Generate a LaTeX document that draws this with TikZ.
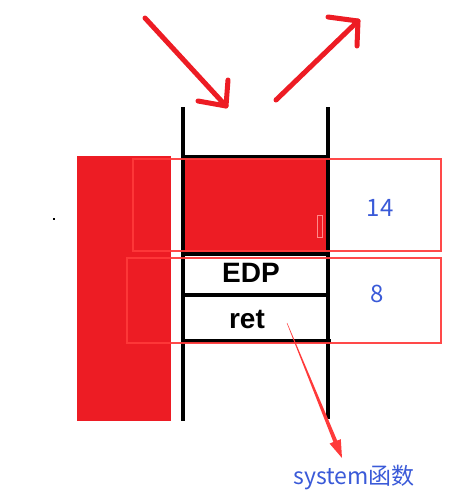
\documentclass[tikz,border=0pt]{standalone}
\usepackage{fontspec}
\setmainfont{Liberation Sans}
\newfontfamily\cjk{Noto Sans CJK SC}
\definecolor{pred}{RGB}{237,28,36}
\definecolor{ored}{RGB}{255,58,58}
\definecolor{tblue}{RGB}{58,90,216}
\tikzset{
  stackline/.style={line width=4pt, black},
  outlinebox/.style={draw=ored, line width=2.5pt, draw opacity=0.92},
  penarrow/.style={draw=pred, line width=5pt, line cap=round, line join=round},
  numlabel/.style={text=tblue, font=\cjk\fontsize{24}{28}\selectfont, inner sep=0pt},
  celllabel/.style={text=black, font=\bfseries\fontsize{28}{30}\selectfont, inner sep=0pt}
}
\begin{document}
\begin{tikzpicture}[x=1pt,y=-1pt]
\useasboundingbox (0,0) rectangle (454,501);
% left red block
\fill[pred] (77,156) rectangle (171,421);
% red filled cell
\fill[pred] (183,157) rectangle (328,252);
% stack walls
\draw[stackline] (183,107) -- (183,421);
\draw[stackline] (328,107) -- (328,419);
\draw[stackline] (183,157) -- (328,157);
\draw[stackline] (183,254) -- (328,254);
\draw[stackline] (183,295) -- (330,295);
\draw[stackline] (183,341) -- (331,341);
% stray dot
\fill[black] (52.8,218.3) rectangle (54.6,220);
% small mark
\draw[draw=ored!60!white, line width=1.5pt] (317.5,215.5) rectangle (322.5,237.5);
% outline boxes
\draw[outlinebox] (133,159) rectangle (441,251);
\draw[outlinebox] (127,258) rectangle (441,343);
% labels
\node[numlabel] (n14) at (380,208) {14};
\node[numlabel] (n8) at (377,294) {8};
\node[celllabel] (edp) at (251,273) {EDP};
\node[celllabel] (ret) at (247,319) {ret};
\node[text=tblue, font=\cjk\fontsize{23}{26}\selectfont, inner sep=0pt] (sys) at (354,478) {system函数};
% top arrows
\coordinate (a1s) at (145,18);
\coordinate (a1e) at (226,106);
\draw[penarrow] (a1s) -- (a1e);
\draw[penarrow] (198,101) -- (a1e) -- (228,80);
\coordinate (a2s) at (276,100);
\coordinate (a2e) at (358,21);
\draw[penarrow] (a2s) -- (a2e);
\draw[penarrow] (328,17) -- (a2e) -- (357,46);
% pointer arrow to system
\coordinate (ps) at (287,323);
\coordinate (pt) at (342,458);
\fill[ored] (286.8,323.1) -- (287.2,322.9) -- (337.2,440.6) -- (340.8,439.2) -- (pt) -- (329.6,443.6) -- (333.4,442) -- cycle;
\end{tikzpicture}
\end{document}
